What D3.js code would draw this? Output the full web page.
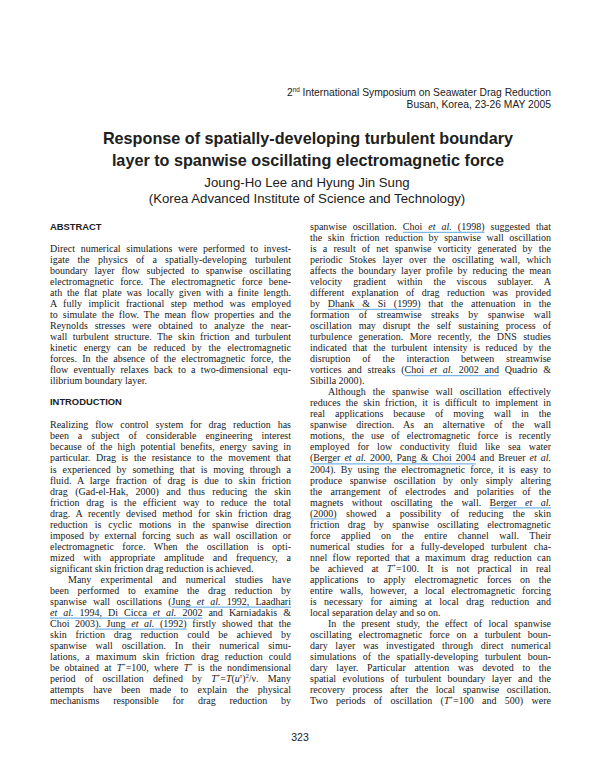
<!DOCTYPE html>
<html><head><meta charset="utf-8">
<script src="https://cdn.jsdelivr.net/npm/d3@7/dist/d3.min.js"></script>
<style>html,body{margin:0;padding:0;background:#fff}svg{display:block}</style>
</head><body>
<svg id="page" width="600" height="776"></svg>
<script>
// ---------- content (markup: *italic*  [underlined citation]  ^superscript^ ; leading ">" = indent, trailing "|" = paragraph end)
const headerLines = [
  "2^nd^ International Symposium on Seawater Drag Reduction",
  "Busan, Korea, 23-26 MAY 2005"
];
const titleLines = [
  "Response of spatially-developing turbulent boundary",
  "layer to spanwise oscillating electromagnetic force"
];
const authorLines = [
  "Joung-Ho Lee and Hyung Jin Sung",
  "(Korea Advanced Institute of Science and Technology)"
];
const headings = ["ABSTRACT", "INTRODUCTION"];
const abstractLines = [
  "Direct numerical simulations were performed to invest-",
  "igate the physics of a spatially-developing turbulent",
  "boundary layer flow subjected to spanwise oscillating",
  "electromagnetic force. The electromagnetic force bene-",
  "ath the flat plate was locally given with a finite length.",
  "A fully implicit fractional step method was employed",
  "to simulate the flow. The mean flow properties and the",
  "Reynolds stresses were obtained to analyze the near-",
  "wall turbulent structure. The skin friction and turbulent",
  "kinetic energy can be reduced by the electromagnetic",
  "forces. In the absence of the electromagnetic force, the",
  "flow eventually relaxes back to a two-dimensional equ-",
  "ilibrium boundary layer.|"
];
const introLeftLines = [
  "Realizing flow control system for drag reduction has",
  "been a subject of considerable engineering interest",
  "because of the high potential benefits, energy saving in",
  "particular. Drag is the resistance to the movement that",
  "is experienced by something that is moving through a",
  "fluid. A large fraction of drag is due to skin friction",
  "drag (Gad-el-Hak, 2000) and thus reducing the skin",
  "friction drag is the efficient way to reduce the total",
  "drag. A recently devised method for skin friction drag",
  "reduction is cyclic motions in the spanwise direction",
  "imposed by external forcing such as wall oscillation or",
  "electromagnetic force. When the oscillation is opti-",
  "mized with appropriate amplitude and frequency, a",
  "significant skin friction drag reduction is achieved.|",
  ">Many experimental and numerical studies have",
  "been performed to examine the drag reduction by",
  "spanwise wall oscillations ([Jung *et al.* 1992, Laadhari]",
  "[*et al.* 1994, Di Cicca *et al.* 2002] and Karniadakis &",
  "Choi 2003[). Jung *et al.* (1992)] firstly showed that the",
  "skin friction drag reduction could be achieved by",
  "spanwise wall oscillation. In their numerical simu-",
  "lations, a maximum skin friction drag reduction could",
  "be obtained at *T*^+^=100, where *T*^+^ is the nondimensional",
  "period of oscillation defined by *T*^+^=*T*(*u*^\u03c4^)^2^/\u03bd. Many",
  "attempts have been made to explain the physical",
  "mechanisms responsible for drag reduction by"
];
const rightLines = [
  "spanwise oscillation. [Choi *et al.* (1998)] suggested that",
  "the skin friction reduction by spanwise wall oscillation",
  "is a result of net spanwise vorticity generated by the",
  "periodic Stokes layer over the oscillating wall, which",
  "affects the boundary layer profile by reducing the mean",
  "velocity gradient within the viscous sublayer. A",
  "different explanation of drag reduction was provided",
  "by [Dhank & Si (1999)] that the attenuation in the",
  "formation of streamwise streaks by spanwise wall",
  "oscillation may disrupt the self sustaining process of",
  "turbulence generation. More recently, the DNS studies",
  "indicated that the turbulent intensity is reduced by the",
  "disruption of the interaction between streamwise",
  "vortices and streaks ([Choi *et al.* 2002 and] Quadrio &",
  "Sibilla 2000).|",
  ">Although the spanwise wall oscillation effectively",
  "reduces the skin friction, it is difficult to implement in",
  "real applications because of moving wall in the",
  "spanwise direction. As an alternative of the wall",
  "motions, the use of electromagnetic force is recently",
  "employed for low conductivity fluid like sea water",
  "([Berger *et al.* 2000, Pang & Choi 2004] and Breuer *et al.*",
  "2004). By using the electromagnetic force, it is easy to",
  "produce spanwise oscillation by only simply altering",
  "the arrangement of electrodes and polarities of the",
  "magnets without oscillating the wall. [Berger *et al.*]",
  "[(2000)] showed a possibility of reducing the skin",
  "friction drag by spanwise oscillating electromagnetic",
  "force applied on the entire channel wall. Their",
  "numerical studies for a fully-developed turbulent cha-",
  "nnel flow reported that a maximum drag reduction can",
  "be achieved at *T*^+^=100. It is not practical in real",
  "applications to apply electromagnetic forces on the",
  "entire walls, however, a local electromagnetic forcing",
  "is necessary for aiming at local drag reduction and",
  "local separation delay and so on.|",
  ">In the present study, the effect of local spanwise",
  "oscillating electromagnetic force on a turbulent boun-",
  "dary layer was investigated through direct numerical",
  "simulations of the spatially-developing turbulent boun-",
  "dary layer. Particular attention was devoted to the",
  "spatial evolutions of turbulent boundary layer and the",
  "recovery process after the local spanwise oscillation.",
  "Two periods of oscillation (*T*^+^=100 and 500) were"
];
const pageNumber = ["323"];

// ---------- layout
const W = 600, H = 776;
const svg = d3.select("#page");
const SERIF = "'Liberation Serif','Times New Roman',serif";
const SANS = "'Liberation Sans',Arial,Helvetica,sans-serif";
const INK = "#202020";
const FS = 10.0;
const colL = [50, 291], colR = [310, 551];
const lineY = d3.scaleLinear().domain([0, 43]).range([230, 704]);   // baseline of line index
const xPage = d3.scaleLinear().domain([0, 1]).range([50, 551]);

function parse(s) {
  const segs = []; let it = false, ul = false, sup = false, buf = "";
  const push = () => { if (buf) { segs.push({ t: buf, it, ul, sup }); buf = ""; } };
  for (const ch of s) {
    if (ch === "*") { push(); it = !it; }
    else if (ch === "[") { push(); ul = true; }
    else if (ch === "]") { push(); ul = false; }
    else if (ch === "^") { push(); sup = !sup; }
    else buf += ch;
  }
  push(); return segs;
}

function textLine(g, raw, x, y, opt) {
  let s = raw, indent = 0, last = false;
  if (s.startsWith(">")) { s = s.slice(1); indent = opt.indent || 0; }
  if (s.endsWith("|")) { s = s.slice(0, -1); last = true; }
  const segs = parse(s);
  const t = g.append("text")
    .attr("x", x + indent).attr("y", y)
    .attr("font-family", opt.family).attr("font-size", opt.size)
    .attr("font-weight", opt.weight || "normal")
    .attr("fill", INK).style("white-space", "pre");
  if (opt.anchor) t.attr("text-anchor", opt.anchor);
  let idx = 0, prevSup = false;
  const ranges = [];
  segs.forEach(sg => {
    const ts = t.append("tspan").text(sg.t);
    if (sg.it) ts.attr("font-style", "italic");
    const shift = opt.size * 0.36;
    if (sg.sup) { ts.attr("font-size", opt.size * 0.62).attr("dy", prevSup ? 0 : -shift); }
    else if (prevSup) ts.attr("dy", shift);
    prevSup = sg.sup;
    if (sg.ul) ranges.push([idx, idx + sg.t.length]);
    idx += sg.t.length;
  });
  if (opt.width && !last) {
    const avail = opt.width - indent;
    const nat = t.node().getComputedTextLength();
    const spaces = (s.replace(/[\*\[\]\^]/g, "").match(/ /g) || []).length;
    if (spaces > 0) t.attr("word-spacing", (avail - nat) / spaces);
  }
  const merged = [];
  ranges.forEach(r => {
    if (merged.length && merged[merged.length - 1][1] === r[0]) merged[merged.length - 1][1] = r[1];
    else merged.push(r.slice());
  });
  const node = t.node();
  merged.forEach(([a, b]) => {
    const x0 = node.getStartPositionOfChar(a).x;
    const x1 = node.getEndPositionOfChar(b - 1).x;
    g.append("line").attr("x1", x0).attr("x2", x1)
      .attr("y1", y + 2.3).attr("y2", y + 2.3)
      .attr("stroke", "#7ab6e8").attr("stroke-width", 1.2);
  });
  return t;
}

// header (right aligned)
const gh = svg.append("g");
headerLines.forEach((l, i) => textLine(gh, l, xPage(1), [96, 108][i],
  { family: SANS, size: 10.3, anchor: "end" }));

// title
const gt = svg.append("g");
titleLines.forEach((l, i) => textLine(gt, l, W / 2 + 8, [144, 166][i],
  { family: SANS, size: 16.2, weight: "bold", anchor: "middle" }));
authorLines.forEach((l, i) => textLine(gt, l, W / 2 + 7, [187, 203][i],
  { family: SANS, size: 13.2, anchor: "middle" }));

// left column
const gl = svg.append("g");
textLine(gl, headings[0], colL[0], lineY(0), { family: SANS, size: 9.4, weight: "bold" });
abstractLines.forEach((l, i) => textLine(gl, l, colL[0], lineY(2 + i),
  { family: SERIF, size: FS, width: colL[1] - colL[0], indent: 18 }));
textLine(gl, headings[1], colL[0], lineY(15.9), { family: SANS, size: 9.4, weight: "bold" });
introLeftLines.forEach((l, i) => textLine(gl, l, colL[0], lineY(18 + i),
  { family: SERIF, size: FS, width: colL[1] - colL[0], indent: 18 }));

// right column
const gr = svg.append("g");
rightLines.forEach((l, i) => textLine(gr, l, colR[0], lineY(i),
  { family: SERIF, size: FS, width: colR[1] - colR[0], indent: 18 }));

// page number
textLine(svg.append("g"), pageNumber[0], W / 2, 741, { family: SANS, size: 10.5, anchor: "middle" });
</script>
</body></html>
